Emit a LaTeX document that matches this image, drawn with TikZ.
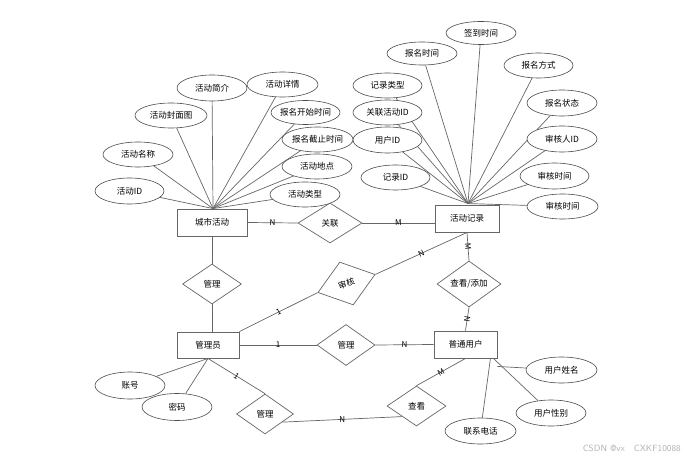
\documentclass[tikz,border=0pt]{standalone}
\usepackage{fontspec}
\newfontfamily\cjk{Noto Sans CJK SC}
\usetikzlibrary{shapes.geometric,calc,backgrounds}
\begin{document}
\begin{tikzpicture}[x=1pt,y=-1pt,
  txt/.style={font=\cjk\fontsize{8.5}{10}\selectfont},
  ent/.style={draw=black!60, fill=white, line width=0.9pt, inner sep=0pt, txt},
  rel/.style={diamond, draw=black!60, fill=white, line width=0.7pt, inner sep=0pt, txt},
  attr/.style={ellipse, draw=black!70, fill=white, line width=0.6pt, minimum width=70pt, minimum height=25pt, inner sep=0pt},
  every label/.style={txt, inner sep=0pt},
  conn/.style={draw=black!60, line width=0.7pt},
  card/.style={font=\cjk\fontsize{8}{9}\selectfont, inner sep=0.5pt},
]
\useasboundingbox (0,0) rectangle (687,462);

% entities
\node[ent, minimum width=70pt, minimum height=27pt] (cs) at (212,222.5) {城市活动};
\node[ent, minimum width=64pt, minimum height=27pt] (jl) at (467,218.5) {活动记录};
\node[ent, minimum width=62pt, minimum height=26pt] (gly) at (208,345) {管理员};
\node[ent, minimum width=63pt, minimum height=27pt] (pu) at (465.5,344.5) {普通用户};

% relations
\node[rel, minimum width=64pt, minimum height=40pt] (gl) at (330,223) {关联};
\node[rel, minimum width=59pt, minimum height=40pt] (gl2) at (212,284) {管理};
\node[rel, minimum width=60pt, minimum height=45pt, rotate=17.5] (sh) at (346.5,283.5) {审核};
\node[rel, minimum width=64pt, minimum height=40pt] (ck) at (469,284) {查看/添加};
\node[rel, minimum width=58pt, minimum height=41pt] (gl3) at (346,345) {管理};
\node[rel, minimum width=57pt, minimum height=40pt] (gl4) at (265,414) {管理};
\node[rel, minimum width=59pt, minimum height=40pt] (kan) at (416.5,406) {查看};

% attributes of 城市活动
\node[attr, minimum width=69pt, minimum height=26pt, label=center:{活动ID}] (a1) at (129.5,191) {};
\node[attr, label=center:{活动名称}] (a2) at (138,154.5) {};
\node[attr, minimum width=72pt, label=center:{活动封面图}] (a3) at (171,115.5) {};
\node[attr, minimum height=26pt, label=center:{活动简介}] (a4) at (212,88) {};
\node[attr, minimum width=71pt, label=center:{活动详情}] (a5) at (282.5,84.5) {};
\node[attr, minimum width=69pt, minimum height=24pt, label=center:{报名开始时间}] (a6) at (305.5,112.5) {};
\node[attr, minimum width=71pt, label=center:{报名截止时间}] (a7) at (317.5,139.5) {};
\node[attr, label=center:{活动地点}] (a8) at (317,166.5) {};
\node[attr, label=center:{活动类型}] (a9) at (305,194.5) {};

% attributes of 活动记录
\node[attr, minimum height=23pt, label=center:{签到时间}] (b1) at (481,33) {};
\node[attr, minimum height=23pt, label=center:{报名时间}] (b2) at (422,53.5) {};
\node[attr, minimum width=69pt, label=center:{报名方式}] (b3) at (538.5,65.5) {};
\node[attr, minimum width=69pt, label=center:{记录类型}] (b4) at (387.5,85.5) {};
\node[attr, minimum height=26pt, label=center:{报名状态}] (b5) at (562,103) {};
\node[attr, minimum width=69pt, label=center:{关联活动ID}] (b6) at (387.5,112.5) {};
\node[attr, minimum width=69pt, minimum height=26pt, label=center:{用户ID}] (b7) at (387.5,140) {};
\node[attr, minimum height=26pt, label=center:{审核人ID}] (b8) at (562,139) {};
\node[attr, minimum width=69pt, label=center:{记录ID}] (b9) at (395.5,177.5) {};
\node[attr, minimum width=69pt, minimum height=26pt, label=center:{审核时间}] (b10) at (554.5,176) {};
\node[attr, minimum width=71pt, label=center:{审核时间}] (b11) at (562.5,206.5) {};

% attributes of 管理员
\node[attr, minimum height=27pt, label=center:{账号}] (c1) at (130,385.5) {};
\node[attr, minimum height=27pt, label=center:{密码}] (c2) at (177,407) {};

% attributes of 普通用户
\node[attr, minimum width=71pt, minimum height=26pt, label=center:{用户姓名}] (d1) at (561.5,370) {};
\node[attr, minimum height=26pt, label=center:{用户性别}] (d2) at (551,413) {};
\node[attr, minimum width=71pt, minimum height=26pt, label=center:{联系电话}] (d3) at (480.5,431) {};

\begin{scope}[on background layer]
% attribute lines
\coordinate (csx) at ($(cs.north)+(1,0)$);
\foreach \n in {a1,a2,a3,a4,a5,a6,a7,a8,a9} \draw[conn] (csx) -- (\n.center);
\coordinate (jlx) at ($(jl.north)+(1,-1)$);
\foreach \n in {b1,b2,b3,b4,b5,b6,b7,b8,b9,b10,b11} \draw[conn] (jlx) -- (\n);
\coordinate (glyx) at (gly.south);
\draw[conn] (glyx) -- (c1);
\draw[conn] (glyx) -- (c2);
\draw[conn] ([yshift=-8pt]pu.south east) -- (d1);
\draw[conn] ([xshift=-4pt]pu.south east) -- (d2);
\draw[conn] ([xshift=-7pt]pu.south east) -- (d3);

% relationship lines
\draw[conn] (cs.east) -- node[card]{N} (gl.west);
\draw[conn] (gl.east) -- node[card]{M} (gl.east -| jl.west);
\draw[conn] (cs.south) -- (gl2.north);
\draw[conn] (gl2.south) -- (gl2.south |- gly.north);
\draw[conn] (gly.north east) -- node[card, sloped]{1} (sh.west);
\draw[conn] (sh.east) -- node[card, sloped]{N} (jl.south);
\draw[conn] (ck.north) -- node[card, sloped]{M} (jl.south);
\draw[conn] (pu.north) -- node[card, sloped]{N} (ck.south);
\draw[conn] (gly.east) -- node[card]{1} (gl3.west);
\draw[conn] (gl3.east) -- node[card]{N} (pu.west);
\draw[conn] (glyx) -- node[card, sloped]{1} (gl4.north);
\draw[conn] ($(gl4.east)!0.4!(gl4.south)$) -- node[card]{N} ($(kan.west)!0.52!(kan.south)$);
\draw[conn] (kan.north) -- node[card, sloped]{M} (pu.south);
\end{scope}

% watermark
\node[font=\fontsize{9}{10}\selectfont\sffamily, text=black!30, anchor=east, inner sep=0pt] (wm) at (681,448) {CSDN @vx\quad CXKF10088};
\end{tikzpicture}
\end{document}
